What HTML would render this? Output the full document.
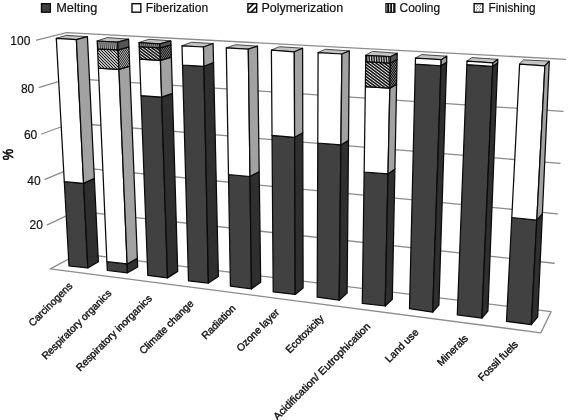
<!DOCTYPE html>
<html lang="en"><head><meta charset="utf-8"><title>Chart</title>
<style>html,body{margin:0;padding:0;background:#fff;overflow:hidden}svg{display:block}text{font-family:"Liberation Sans",Arial,sans-serif;fill:#111}</style>
</head><body>
<svg width="568" height="420" viewBox="0 0 568 420">
<defs>
<pattern id="pA" patternUnits="userSpaceOnUse" x="0" y="0" width="3" height="3"><rect width="3" height="3" fill="#fff"/><g stroke="#0c0c0c" stroke-width="1.05"><line x1="-6" y1="-3" x2="3" y2="6"/><line x1="-3" y1="-3" x2="6" y2="6"/><line x1="0" y1="-3" x2="9" y2="6"/></g></pattern>
<pattern id="pB" patternUnits="userSpaceOnUse" x="0" y="0" width="4" height="3"><rect width="4" height="3" fill="#fff"/><g stroke="#0c0c0c" stroke-width="1.45"><line x1="-8" y1="-3" x2="4" y2="6"/><line x1="-4" y1="-3" x2="8" y2="6"/><line x1="0" y1="-3" x2="12" y2="6"/></g></pattern>
<pattern id="pAs" patternUnits="userSpaceOnUse" x="0" y="0" width="2" height="3"><rect width="2" height="3" fill="#cfcfcf"/><g stroke="#0c0c0c" stroke-width="1.00"><line x1="-4" y1="-3" x2="2" y2="6"/><line x1="-2" y1="-3" x2="4" y2="6"/><line x1="0" y1="-3" x2="6" y2="6"/></g></pattern>
<pattern id="pBs" patternUnits="userSpaceOnUse" x="0" y="0" width="2" height="3"><rect width="2" height="3" fill="#b4b4b4"/><g stroke="#0c0c0c" stroke-width="1.10"><line x1="-4" y1="-3" x2="2" y2="6"/><line x1="-2" y1="-3" x2="4" y2="6"/><line x1="0" y1="-3" x2="6" y2="6"/></g></pattern>
<pattern id="pLF" patternUnits="userSpaceOnUse" width="3" height="3.2" patternTransform="translate(475.2 4.3)"><rect width="3" height="3.2" fill="#f4f4f4"/><rect x="0.1" y="0.1" width="0.9" height="0.9" fill="#666"/><rect x="1.6" y="1.7" width="0.9" height="0.9" fill="#666"/></pattern>
</defs>
<rect width="568" height="420" fill="#fff"/>
<g fill="none" stroke="#8c8c8c" stroke-width="1.3" stroke-linecap="round" stroke-linejoin="round">
<polyline points="36.60,40.20 66.70,32.63 565.70,59.33"/>
<polyline points="39.30,87.30 69.30,78.31 563.00,111.39"/>
<polyline points="41.70,134.00 71.80,123.00 560.00,163.28"/>
<polyline points="45.00,179.30 74.30,167.21 557.50,213.79"/>
<polyline points="47.30,224.90 76.70,211.20 554.20,263.24"/>
<polygon points="50.30,268.90 79.00,253.51 551.10,311.62 540.90,332.80" fill="#fff"/>
</g>
<g stroke="#0a0a0a" stroke-width="1.25" stroke-linejoin="round" stroke-linecap="round">
<polygon points="56.30,38.40 76.40,39.60 87.40,36.60 66.60,35.40" fill="#c4c4c4" stroke="#222" stroke-width="0.8"/>
<polygon points="64.30,181.70 83.58,183.34 87.80,267.90 69.00,266.00" fill="#414141"/>
<polygon points="83.58,183.34 94.33,178.39 98.40,261.80 87.80,267.90" fill="#2f2f2f"/>
<polygon points="56.30,38.40 76.40,39.60 83.58,183.34 64.30,181.70" fill="#ffffff"/>
<polygon points="76.40,39.60 87.40,36.60 94.33,178.39 83.58,183.34" fill="#a2a2a2"/>
<polygon points="97.20,41.00 117.80,42.10 128.60,39.10 107.70,37.60" fill="#c4c4c4" stroke="#222" stroke-width="0.8"/>
<polygon points="106.91,261.70 127.13,263.95 127.50,272.80 107.30,270.50" fill="#414141"/>
<polygon points="127.13,263.95 137.35,258.26 137.70,267.00 127.50,272.80" fill="#2f2f2f"/>
<polygon points="98.40,68.20 118.95,69.44 127.13,263.95 106.91,261.70" fill="#ffffff"/>
<polygon points="118.95,69.44 129.68,66.11 137.35,258.26 127.13,263.95" fill="#a2a2a2"/>
<polygon points="97.54,48.80 118.13,49.94 118.95,69.44 98.40,68.20" fill="url(#pA)"/>
<polygon points="118.13,49.94 128.91,46.85 129.68,66.11 118.95,69.44" fill="url(#pAs)"/>
<clipPath id="g3"><polygon points="97.20,41.00 117.80,42.10 118.13,49.94 97.54,48.80"/></clipPath>
<polygon points="97.20,41.00 117.80,42.10 118.13,49.94 97.54,48.80" fill="#1a1a1a" stroke="none"/>
<g clip-path="url(#g3)" stroke="#f4f4f4" stroke-width="0.85">
<line x1="98.80" y1="40.00" x2="99.40" y2="50.94"/>
<line x1="100.80" y1="40.00" x2="101.40" y2="50.94"/>
<line x1="102.80" y1="40.00" x2="103.40" y2="50.94"/>
<line x1="104.80" y1="40.00" x2="105.40" y2="50.94"/>
<line x1="106.80" y1="40.00" x2="107.40" y2="50.94"/>
<line x1="108.80" y1="40.00" x2="109.40" y2="50.94"/>
<line x1="110.80" y1="40.00" x2="111.40" y2="50.94"/>
<line x1="112.80" y1="40.00" x2="113.40" y2="50.94"/>
<line x1="114.80" y1="40.00" x2="115.40" y2="50.94"/>
<line x1="116.80" y1="40.00" x2="117.40" y2="50.94"/>
</g>
<polygon points="97.20,41.00 117.80,42.10 118.13,49.94 97.54,48.80" fill="none"/>
<polygon points="117.80,42.10 128.60,39.10 128.91,46.85 118.13,49.94" fill="#555555"/>
<polygon points="139.00,42.60 159.90,43.80 170.90,40.80 149.40,39.30" fill="#c4c4c4" stroke="#222" stroke-width="0.8"/>
<polygon points="141.00,95.60 161.63,97.10 167.50,277.90 147.80,275.40" fill="#414141"/>
<polygon points="161.63,97.10 172.45,93.30 177.70,271.40 167.50,277.90" fill="#2f2f2f"/>
<polygon points="139.62,59.10 160.44,60.39 161.63,97.10 141.00,95.60" fill="#ffffff"/>
<polygon points="160.44,60.39 171.38,57.14 172.45,93.30 161.63,97.10" fill="#a2a2a2"/>
<polygon points="139.15,46.70 160.03,47.92 160.44,60.39 139.62,59.10" fill="url(#pB)"/>
<polygon points="160.03,47.92 171.02,44.86 171.38,57.14 160.44,60.39" fill="url(#pBs)"/>
<clipPath id="g6"><polygon points="139.00,42.60 159.90,43.80 160.03,47.92 139.15,46.70"/></clipPath>
<polygon points="139.00,42.60 159.90,43.80 160.03,47.92 139.15,46.70" fill="#1a1a1a" stroke="none"/>
<g clip-path="url(#g6)" stroke="#f4f4f4" stroke-width="0.75">
<line x1="140.60" y1="41.60" x2="141.20" y2="48.92"/>
<line x1="142.60" y1="41.60" x2="143.20" y2="48.92"/>
<line x1="144.60" y1="41.60" x2="145.20" y2="48.92"/>
<line x1="146.60" y1="41.60" x2="147.20" y2="48.92"/>
<line x1="148.60" y1="41.60" x2="149.20" y2="48.92"/>
<line x1="150.60" y1="41.60" x2="151.20" y2="48.92"/>
<line x1="152.60" y1="41.60" x2="153.20" y2="48.92"/>
<line x1="154.60" y1="41.60" x2="155.20" y2="48.92"/>
<line x1="156.60" y1="41.60" x2="157.20" y2="48.92"/>
<line x1="158.60" y1="41.60" x2="159.20" y2="48.92"/>
</g>
<polygon points="139.00,42.60 159.90,43.80 160.03,47.92 139.15,46.70" fill="none"/>
<polygon points="159.90,43.80 170.90,40.80 171.02,44.86 160.03,47.92" fill="#555555"/>
<polygon points="182.00,45.80 203.50,47.00 213.10,43.50 192.00,42.30" fill="#c4c4c4" stroke="#222" stroke-width="0.8"/>
<polygon points="182.53,65.00 203.90,66.29 208.40,283.10 188.50,280.80" fill="#414141"/>
<polygon points="203.90,66.29 213.53,62.54 218.40,276.60 208.40,283.10" fill="#2f2f2f"/>
<polygon points="182.00,45.80 203.50,47.00 203.90,66.29 182.53,65.00" fill="#ffffff"/>
<polygon points="203.50,47.00 213.10,43.50 213.53,62.54 203.90,66.29" fill="#a2a2a2"/>
<polygon points="226.30,47.90 248.30,49.10 257.50,46.10 236.00,44.70" fill="#c4c4c4" stroke="#222" stroke-width="0.8"/>
<polygon points="228.48,174.50 250.00,176.50 251.50,288.80 230.40,286.10" fill="#414141"/>
<polygon points="250.00,176.50 259.20,171.64 260.70,282.30 251.50,288.80" fill="#2f2f2f"/>
<polygon points="226.30,47.90 248.30,49.10 250.00,176.50 228.48,174.50" fill="#ffffff"/>
<polygon points="248.30,49.10 257.50,46.10 259.20,171.64 250.00,176.50" fill="#a2a2a2"/>
<polygon points="271.40,50.20 294.30,51.80 302.60,48.20 279.70,46.70" fill="#c4c4c4" stroke="#222" stroke-width="0.8"/>
<polygon points="272.03,135.40 294.62,137.32 295.20,294.40 273.20,291.90" fill="#414141"/>
<polygon points="294.62,137.32 302.78,132.69 303.10,287.90 295.20,294.40" fill="#2f2f2f"/>
<polygon points="271.40,50.20 294.30,51.80 294.62,137.32 272.03,135.40" fill="#ffffff"/>
<polygon points="294.30,51.80 302.60,48.20 302.78,132.69 294.62,137.32" fill="#a2a2a2"/>
<polygon points="318.10,52.60 341.90,54.00 349.30,50.90 326.00,49.30" fill="#c4c4c4" stroke="#222" stroke-width="0.8"/>
<polygon points="317.77,143.00 340.90,144.99 339.20,300.20 317.20,297.20" fill="#414141"/>
<polygon points="340.90,144.99 348.49,140.41 347.10,293.10 339.20,300.20" fill="#2f2f2f"/>
<polygon points="318.10,52.60 341.90,54.00 340.90,144.99 317.77,143.00" fill="#ffffff"/>
<polygon points="341.90,54.00 349.30,50.90 348.49,140.41 340.90,144.99" fill="#a2a2a2"/>
<polygon points="365.80,55.30 390.50,56.70 397.20,53.20 372.90,51.40" fill="#c4c4c4" stroke="#222" stroke-width="0.8"/>
<polygon points="364.15,172.00 388.01,173.96 385.20,306.00 362.30,303.40" fill="#414141"/>
<polygon points="388.01,173.96 394.90,168.96 392.30,299.30 385.20,306.00" fill="#2f2f2f"/>
<polygon points="365.36,86.60 389.83,88.15 388.01,173.96 364.15,172.00" fill="#ffffff"/>
<polygon points="389.83,88.15 396.58,84.25 394.90,168.96 388.01,173.96" fill="#a2a2a2"/>
<polygon points="365.71,61.60 390.37,63.03 389.83,88.15 365.36,86.60" fill="url(#pB)"/>
<polygon points="390.37,63.03 397.08,59.45 396.58,84.25 389.83,88.15" fill="url(#pBs)"/>
<clipPath id="g9"><polygon points="365.80,55.30 390.50,56.70 390.37,63.03 365.71,61.60"/></clipPath>
<polygon points="365.80,55.30 390.50,56.70 390.37,63.03 365.71,61.60" fill="#1a1a1a" stroke="none"/>
<g clip-path="url(#g9)" stroke="#f4f4f4" stroke-width="0.90">
<line x1="367.76" y1="54.30" x2="368.36" y2="64.03"/>
<line x1="370.21" y1="54.30" x2="370.81" y2="64.03"/>
<line x1="372.66" y1="54.30" x2="373.26" y2="64.03"/>
<line x1="375.11" y1="54.30" x2="375.71" y2="64.03"/>
<line x1="377.56" y1="54.30" x2="378.16" y2="64.03"/>
<line x1="380.01" y1="54.30" x2="380.61" y2="64.03"/>
<line x1="382.46" y1="54.30" x2="383.06" y2="64.03"/>
<line x1="384.91" y1="54.30" x2="385.51" y2="64.03"/>
<line x1="387.36" y1="54.30" x2="387.96" y2="64.03"/>
<line x1="389.81" y1="54.30" x2="390.41" y2="64.03"/>
</g>
<polygon points="365.80,55.30 390.50,56.70 390.37,63.03 365.71,61.60" fill="none"/>
<polygon points="390.50,56.70 397.20,53.20 397.08,59.45 390.37,63.03" fill="#555555"/>
<polygon points="415.50,58.10 441.20,59.70 446.80,56.20 422.20,54.60" fill="#c4c4c4" stroke="#222" stroke-width="0.8"/>
<polygon points="415.36,64.10 441.00,65.75 432.70,312.20 409.50,308.70" fill="#414141"/>
<polygon points="441.00,65.75 446.61,62.16 438.90,305.10 432.70,312.20" fill="#2f2f2f"/>
<polygon points="415.50,58.10 441.20,59.70 441.00,65.75 415.36,64.10" fill="#ffffff"/>
<polygon points="441.20,59.70 446.80,56.20 446.61,62.16 441.00,65.75" fill="#a2a2a2"/>
<polygon points="467.00,61.10 492.90,62.90 497.80,59.30 472.30,57.60" fill="#c4c4c4" stroke="#222" stroke-width="0.8"/>
<polygon points="466.87,64.60 492.75,66.42 481.90,318.10 457.30,314.80" fill="#414141"/>
<polygon points="492.75,66.42 497.66,62.77 487.90,311.10 481.90,318.10" fill="#2f2f2f"/>
<polygon points="467.00,61.10 492.90,62.90 492.75,66.42 466.87,64.60" fill="#ffffff"/>
<polygon points="492.90,62.90 497.80,59.30 497.66,62.77 492.75,66.42" fill="#a2a2a2"/>
<polygon points="519.60,64.10 544.90,65.80 549.30,61.10 524.00,59.90" fill="#c4c4c4" stroke="#222" stroke-width="0.8"/>
<polygon points="511.79,217.50 536.79,220.21 531.30,324.70 506.50,321.30" fill="#414141"/>
<polygon points="536.79,220.21 542.38,213.67 537.70,316.90 531.30,324.70" fill="#2f2f2f"/>
<polygon points="519.60,64.10 544.90,65.80 536.79,220.21 511.79,217.50" fill="#ffffff"/>
<polygon points="544.90,65.80 549.30,61.10 542.38,213.67 536.79,220.21" fill="#a2a2a2"/>
</g>
<g font-size="12px" text-anchor="end" stroke="#111" stroke-width="0.2">
<text x="30.4" y="44.6">100</text>
<text x="34.3" y="92.6">80</text>
<text x="37.3" y="138.5">60</text>
<text x="40.7" y="184.9">40</text>
<text x="42.9" y="229.2">20</text>
</g>
<text transform="translate(12.9 154.6) rotate(-90)" font-size="15px" text-anchor="middle" textLength="11.3" lengthAdjust="spacingAndGlyphs" stroke="#111" stroke-width="0.7">%</text>
<rect x="41.50" y="3.7" width="8.8" height="8.5" fill="#414141"/>
<rect x="41.50" y="3.7" width="8.8" height="8.5" fill="none" stroke="#0c0c0c" stroke-width="1.4"/>
<rect x="132.00" y="3.7" width="8.8" height="8.5" fill="#fff"/>
<rect x="132.00" y="3.7" width="8.8" height="8.5" fill="none" stroke="#0c0c0c" stroke-width="1.4"/>
<clipPath id="cpP"><rect x="247.9" y="3.7" width="8.8" height="8.5"/></clipPath>
<rect x="247.90" y="3.7" width="8.8" height="8.5" fill="#fff"/>
<g clip-path="url(#cpP)" stroke="#0c0c0c" stroke-width="1.6"><line x1="242.85" y1="14.50" x2="258.85" y2="-1.50"/><line x1="245.75" y1="17.40" x2="261.75" y2="1.40"/></g>
<rect x="247.90" y="3.7" width="8.8" height="8.5" fill="none" stroke="#0c0c0c" stroke-width="1.4"/>
<rect x="386.00" y="3.7" width="8.8" height="8.5" fill="#0c0c0c"/>
<rect x="386.00" y="3.7" width="8.8" height="8.5" fill="none" stroke="#0c0c0c" stroke-width="1.4"/>
<rect x="386.18" y="3.9" width="1.15" height="7.9" fill="#808080"/>
<rect x="389.13" y="3.9" width="1.15" height="7.9" fill="#dddddd"/>
<rect x="392.08" y="3.9" width="1.15" height="7.9" fill="#ffffff"/>
<rect x="474.10" y="3.7" width="8.8" height="8.5" fill="#fbfbfb"/>
<rect x="477.15" y="4.85" width="0.9" height="0.9" fill="#4a4a4a"/><rect x="480.15" y="4.85" width="0.9" height="0.9" fill="#4a4a4a"/><rect x="475.90" y="6.35" width="0.9" height="0.9" fill="#4a4a4a"/><rect x="478.95" y="6.35" width="0.9" height="0.9" fill="#4a4a4a"/><rect x="477.15" y="8.00" width="0.9" height="0.9" fill="#4a4a4a"/><rect x="480.15" y="8.00" width="0.9" height="0.9" fill="#4a4a4a"/><rect x="475.90" y="9.65" width="0.9" height="0.9" fill="#4a4a4a"/><rect x="478.95" y="9.65" width="0.9" height="0.9" fill="#4a4a4a"/>
<rect x="474.10" y="3.7" width="8.8" height="8.5" fill="none" stroke="#0c0c0c" stroke-width="1.4"/>
<g font-size="12px" stroke="#111" stroke-width="0.2">
<text x="56.2" y="12.1" textLength="41.1" lengthAdjust="spacingAndGlyphs">Melting</text>
<text x="145.8" y="12.1" textLength="62.3" lengthAdjust="spacingAndGlyphs">Fiberization</text>
<text x="261.4" y="12.1" textLength="81.8" lengthAdjust="spacingAndGlyphs">Polymerization</text>
<text x="399.6" y="12.1" textLength="40.5" lengthAdjust="spacingAndGlyphs">Cooling</text>
<text x="488.5" y="12.1" textLength="47.1" lengthAdjust="spacingAndGlyphs">Finishing</text>
</g>
<g font-size="10.3px" text-anchor="end" stroke="#111" stroke-width="0.38">
<text transform="translate(73.0 286.6) rotate(-45)" textLength="57.0" lengthAdjust="spacingAndGlyphs">Carcinogens</text>
<text transform="translate(112.0 294.0) rotate(-45)" textLength="93.5" lengthAdjust="spacingAndGlyphs">Respiratory organics</text>
<text transform="translate(152.6 299.2) rotate(-45)">Respiratory inorganics</text>
<text transform="translate(194.2 304.2) rotate(-45)">Climate change</text>
<text transform="translate(236.4 309.0) rotate(-45)">Radiation</text>
<text transform="translate(279.9 313.0) rotate(-45)">Ozone layer</text>
<text transform="translate(324.5 319.0) rotate(-45)">Ecotoxicity</text>
<text transform="translate(371.1 327.0) rotate(-45)" textLength="132.5" lengthAdjust="spacingAndGlyphs">Acidification/ Eutrophication</text>
<text transform="translate(419.3 333.0) rotate(-45)">Land use</text>
<text transform="translate(468.7 339.0) rotate(-45)">Minerals</text>
<text transform="translate(518.7 345.0) rotate(-45)">Fossil fuels</text>
</g>
</svg>
</body></html>
